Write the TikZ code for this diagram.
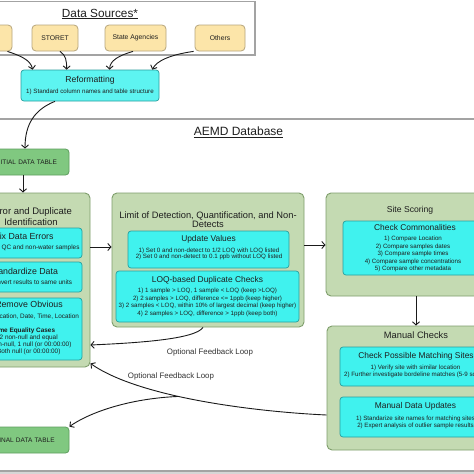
\documentclass[tikz,border=0pt]{standalone}
\usepackage{fontspec}
\setmainfont{Liberation Sans}
\usetikzlibrary{arrows.meta}
\definecolor{contfill}{HTML}{C4DAB2}
\definecolor{contdraw}{HTML}{7F9E6C}
\definecolor{cyfill}{HTML}{40F2EE}
\definecolor{cydraw}{HTML}{2A9E9E}
\definecolor{tblfill}{HTML}{80C880}
\definecolor{tbldraw}{HTML}{5E9E5E}
\definecolor{srcfill}{HTML}{FCE5A9}
\definecolor{srcdraw}{HTML}{B6A57C}
\definecolor{frame}{HTML}{A3A3A3}
\definecolor{bandgray}{HTML}{D6D6D6}
\definecolor{txt}{HTML}{1E1E1E}
\definecolor{fbtxt}{HTML}{333333}
\definecolor{arrcol}{HTML}{1A1A1A}
\begin{document}
\begin{tikzpicture}[x=1pt,y=-1pt,
  frm/.style={draw=frame, line width=1.4pt, inner sep=0pt},
  src/.style={draw=srcdraw, fill=srcfill, line width=0.8pt, rounded corners=4pt, minimum height=26pt, inner sep=0pt, font=\fontsize{6.8}{8}\selectfont, text=txt},
  cont/.style={draw=contdraw, fill=contfill, line width=0.9pt, rounded corners=5pt, inner sep=0pt},
  cy/.style={draw=cydraw, fill=cyfill, line width=0.7pt, rounded corners=3pt, inner sep=0pt},
  tbl/.style={draw=tbldraw, fill=tblfill, line width=0.8pt, rounded corners=3.5pt, minimum width=88pt, minimum height=26pt, inner sep=0pt, font=\fontsize{6.5}{8}\selectfont, text=txt},
  ctitle/.style={inner sep=0pt, align=center, text=txt, font=\fontsize{9.3}{11}\selectfont},
  stitle/.style={inner sep=0pt, align=center, text=txt, font=\fontsize{8.4}{10}\selectfont},
  small/.style={inner sep=0pt, align=center, text=txt, font=\fontsize{6.2}{7}\selectfont},
  fbl/.style={inner sep=0pt, text=fbtxt, font=\fontsize{7.9}{9}\selectfont},
  ttl/.style={inner sep=0pt, text=txt},
  arr/.style={draw=arrcol, line width=0.9pt, -{Straight Barb[length=3.2pt,width=7pt]}}
]
\useasboundingbox (0,0) rectangle (474,474);
\clip (0,0) rectangle (474,474);
\fill[white] (0,0) rectangle (474,474);

% frames
\node[frm, minimum width=265pt, minimum height=53.5pt] (dsf) at (122.5,28.25) {};
\node[ttl, font=\fontsize{11.8}{14}\selectfont] (dst) at (100,14) {\underline{Data Sources*}};
\fill[bandgray] (-10,471) rectangle (484,480);
\node[frm, minimum width=494pt, minimum height=352pt] (aemd) at (237,295) {};
\node[ttl, font=\fontsize{12}{14}\selectfont] (aemdt) at (238.5,132) {\underline{AEMD Database}};

% sources
\node[src, minimum width=42pt] (src1) at (-9,38) {};
\node[src, minimum width=46pt] (storet) at (55,38) {STORET};
\node[src, minimum width=61pt] (state) at (135.5,38) {State Agencies};
\node[src, minimum width=50pt] (others) at (220,38) {Others};

% reformatting
\node[cy, fill=cyfill!85!white, minimum width=138pt, minimum height=31pt] (ref) at (90,85.5) {};
\node[stitle, font=\fontsize{8.6}{10}\selectfont] (refT) at (90,80) {Reformatting};
\node[small] (refL) at (90,92) {1) Standard column names and table structure};

% tables
\node[tbl, text width=88pt, align=center] (init) at (25,162) {\hspace*{1pt}INITIAL DATA TABLE};
\node[tbl, text width=88pt, align=center] (fin) at (25,440) {FINAL DATA TABLE};

% error and duplicate identification
\node[cont, minimum width=118pt, minimum height=174pt] (err) at (31,280) {};
\node[ctitle, font=\fontsize{9.5}{11}\selectfont] (errT) at (31,216.5) {Error and Duplicate\\Identification};
\node[cy, minimum width=106pt, minimum height=30pt] (fix) at (29,243) {};
\node[stitle, font=\fontsize{8.8}{10}\selectfont] (fixT) at (24,236) {Fix Data Errors};
\node[small, font=\fontsize{6.4}{7}\selectfont] (fixL) at (24,248) {1) Remove QC and non-water samples};
\node[cy, minimum width=106pt, minimum height=30pt] (std) at (29,277) {};
\node[stitle, font=\fontsize{8.8}{10}\selectfont] (stdT) at (24,271) {Standardize Data};
\node[small, font=\fontsize{6.4}{7}\selectfont] (stdL) at (27,283) {1) Convert results to same units};
\node[cy, minimum width=106pt, minimum height=62pt] (rem) at (29,329) {};
\node[stitle, font=\fontsize{8.8}{10}\selectfont] (remT) at (29,304) {Remove Obvious};
\node[small, font=\fontsize{6.4}{7}\selectfont] (remL) at (32,317) {1) Location, Date, Time, Location};
\node[small, font=\bfseries\fontsize{6.4}{7}\selectfont] (remH) at (24,331) {Time Equality Cases};
\node[small, font=\fontsize{6.4}{7.2}\selectfont] (remC) at (25,345) {1) 2 non-null and equal\\2) 1 non-null, 1 null (or 00:00:00)\\3) Both null (or 00:00:00)};

% limit of detection
\node[cont, minimum width=192pt, minimum height=134pt] (mid) at (208,260) {};
\node[ctitle, font=\fontsize{9.3}{9.6}\selectfont] (midT) at (208,219.5) {Limit of Detection, Quantification, and Non-\\Detects};
\node[cy, minimum width=161pt, minimum height=37pt] (upd) at (208.5,249.5) {};
\node[stitle] (updT) at (208.5,239) {Update Values};
\node[small, font=\fontsize{6.2}{6.6}\selectfont] (updL) at (209,254) {1) Set 0 and non-detect to 1/2 LOQ with LOQ listed\\2) Set 0 and non-detect to 0.1 ppb without LOQ listed};
\node[cy, minimum width=183pt, minimum height=51pt] (loq) at (207.5,296.5) {};
\node[stitle] (loqT) at (207.5,280) {LOQ-based Duplicate Checks};
\node[small, font=\fontsize{6.2}{7.6}\selectfont] (loqL) at (207.5,302.5) {1) 1 sample > LOQ, 1 sample < LOQ (keep >LOQ)\\2) 2 samples > LOQ, difference <= 1ppb (keep higher)\\3) 2 samples < LOQ, within 10\% of largest decimal (keep higher)\\4) 2 samples > LOQ, difference > 1ppb (keep both)};

% site scoring
\node[cont, minimum width=168pt, minimum height=103pt] (ss) at (410,244.5) {};
\node[ctitle, font=\fontsize{8.6}{10}\selectfont] (ssT) at (410,210) {Site Scoring};
\node[cy, minimum width=144pt, minimum height=54pt] (cc) at (415,248) {};
\node[stitle] (ccT) at (415,227) {Check Commonalities};
\node[small, font=\fontsize{6.2}{7.5}\selectfont] (ccL) at (413,254) {1) Compare Location\\2) Compare samples dates\\3) Compare sample times\\4) Compare sample concentrations\\5) Compare other metadata};

% manual checks
\node[cont, minimum width=167pt, minimum height=124pt] (mc) at (410.5,388) {};
\node[ctitle] (mcT) at (416,335) {Manual Checks};
\node[cy, minimum width=154pt, minimum height=39pt] (cpm) at (417,366.5) {};
\node[stitle] (cpmT) at (416,356) {Check Possible Matching Sites};
\node[small, font=\fontsize{6.2}{6.6}\selectfont] (cpmL) at (415.5,371.3) {1) Verify site with similar location\\2) Further investigate bordeline matches (5-9 score)};
\node[cy, minimum width=154pt, minimum height=40pt] (mdu) at (417,417) {};
\node[stitle] (mduT) at (415.5,406) {Manual Data Updates};
\node[small, font=\fontsize{6.2}{6.6}\selectfont] (mduL) at (415.5,422.2) {1) Standarize site names for matching sites\\2) Expert analysis of outlier sample results};

% arrows: sources to reformatting
\draw[arr] ([xshift=-5pt]src1.south east) .. controls +(12,4) and +(-2,-10) .. ([xshift=12pt]ref.north west);
\draw[arr] ([xshift=5pt]storet.south) .. controls +(6,4) and +(0,-9) .. ([xshift=46pt]ref.north west);
\draw[arr] ([xshift=-2.5pt]state.south) .. controls +(-14,4) and +(0,-9) .. ([xshift=89pt]ref.north west);
\draw[arr] ([xshift=-1pt]others.south west) .. controls +(-22,3) and +(4,-9) .. ([xshift=-7pt]ref.north east);
\draw[arr] ([xshift=-35pt]ref.south) .. controls +(-20,8) and +(0,-25) .. (init.north);

% main flow
\draw[arr] ([xshift=-2pt]init.south) -- ([xshift=-2pt]init.south |- err.north);
\draw[arr] ([yshift=33pt]err.east) -- ([yshift=33pt]err.east -| mid.west);
\draw[arr] ([yshift=15pt]mid.east) -- ([yshift=15pt]mid.east -| ss.west);
\draw[arr] ([xshift=6pt]ss.south) -- ([xshift=6pt]ss.south |- mc.north);

% feedback loops
\draw[arr] ([xshift=-5pt]mid.south) .. controls +(-8,12) and +(45,-2) .. ([yshift=-65pt]err.east);
\node[fbl] (fb1) at (210,352) {Optional Feedback Loop};
\draw[arr] ([yshift=-27pt]mc.west) .. controls +(-66,-3) and +(50,35) .. coordinate[pos=0.59] (fbj) ([yshift=4pt]err.south east);
\node[fbl] (fb2) at (171,376) {Optional Feedback Loop};
\draw[arr] (fbj) .. controls +(-50,2) and +(20,-14) .. (fin.north east);
\end{tikzpicture}
\end{document}
